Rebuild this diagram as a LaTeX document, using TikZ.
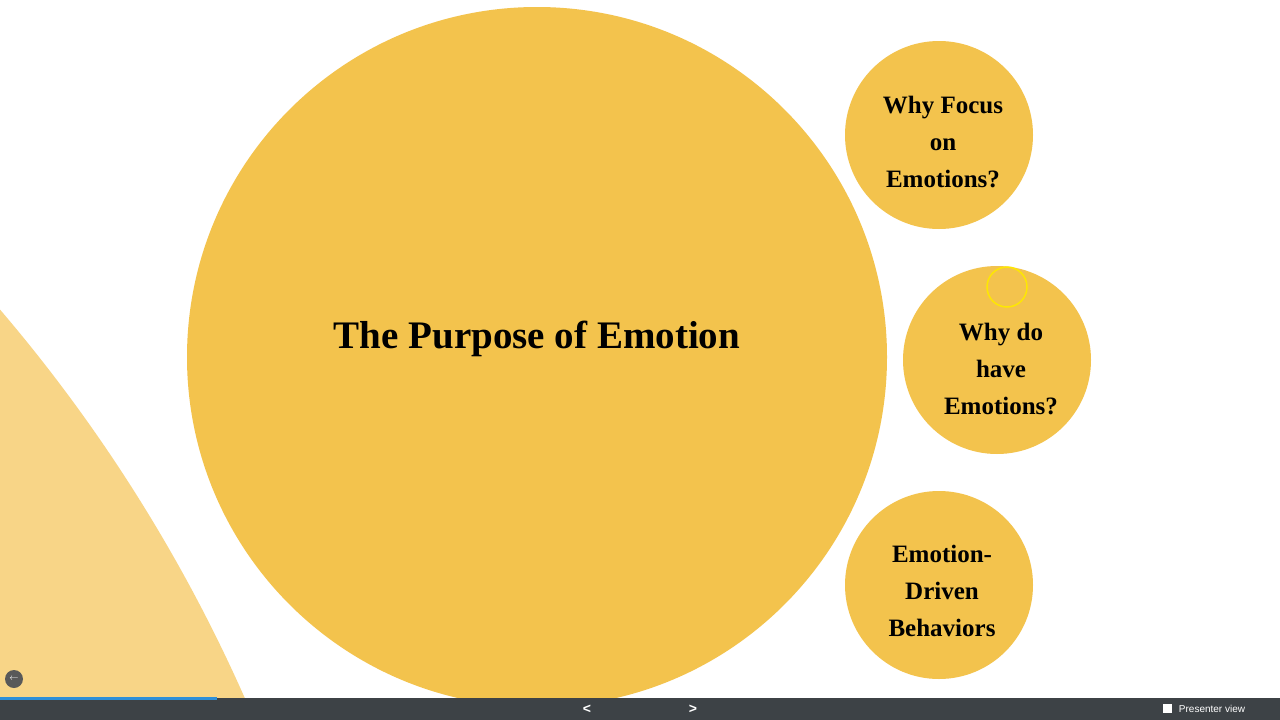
\documentclass[tikz,border=0pt]{standalone}
\usepackage{fontspec}
\setmainfont{Liberation Serif}
\newfontfamily\uifont{Liberation Sans}
\definecolor{gold}{HTML}{F3C34D}
\definecolor{lightgold}{HTML}{F8D587}
\definecolor{barbg}{HTML}{3D4246}
\definecolor{progress}{HTML}{2E8FD8}
\tikzset{
  bubble/.style={circle, fill=gold, inner sep=0pt, minimum size=188},
  btext/.style={align=center, font=\fontsize{25}{37}\selectfont\bfseries},
}
\begin{document}
\begin{tikzpicture}[x=1pt,y=-1pt]
\useasboundingbox (0,0) rectangle (1280,720);
\fill[white] (0,0) rectangle (1280,720);
\begin{scope}
\clip (0,0) rectangle (1280,698);
\fill[lightgold] (-1207,1340) circle (1587);
\node[circle, fill=gold, inner sep=0pt, minimum size=700] (main) at (537,357) {};
\node (title) at (537,339) {\fontsize{39}{44}\selectfont\bfseries The Purpose of Emotion};
\end{scope}
\node[bubble] (q1) at (939,135) {};
\node[btext] (t1) at (943,142) {Why Focus\\on\\Emotions?};
\node[bubble] (q2) at (997,360) {};
\node[btext] (t2) at (1001,369) {Why do\\have\\Emotions?};
\node[bubble] (q3) at (939,585) {};
\node[btext] (t3) at (942,591) {Emotion-\\Driven\\Behaviors};
\draw[yellow!90!orange, line width=1.5] (1007,287) circle (20);
\fill[barbg] (0,698) rectangle (1280,720);
\fill[progress] (0,697) rectangle (217,700);
\fill[gray!70!black] (14,679) circle (9);
\node[text=white, font=\uifont\fontsize{9}{9}\selectfont] (back) at (14,679) {$\leftarrow$};
\node[text=white, font=\uifont\bfseries\fontsize{14}{14}\selectfont] (prev) at (587,709) {<};
\node[text=white, font=\uifont\bfseries\fontsize{14}{14}\selectfont] (next) at (693,709) {>};
\node[text=white, font=\uifont\fontsize{10}{10}\selectfont] (pv) at (1212,709) {Presenter view};
\fill[white] (1163,704) rectangle (1172,713);
\end{tikzpicture}
\end{document}
